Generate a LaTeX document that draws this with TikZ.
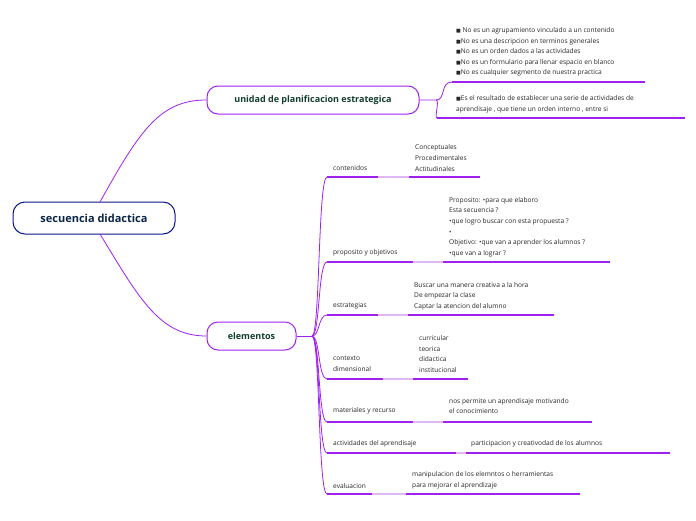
\documentclass[tikz,border=0pt]{standalone}
\usepackage{fontspec}
\setmainfont{Open Sans}
\newfontfamily\djv{DejaVu Sans}
\newcommand{\sqb}{{\djv\fontsize{5}{6}\selectfont■}}
\definecolor{vio}{HTML}{A020F0}
\definecolor{lvio}{HTML}{DDB8F5}
\definecolor{navy}{HTML}{0B2545}
\definecolor{dgreen}{HTML}{123D2E}
\begin{document}
\begin{tikzpicture}[x=1pt,y=-1pt,
  root/.style={draw=navy!60!blue,line width=1pt,rounded corners=12pt,fill=white,minimum width=162pt,minimum height=32pt,font=\fontsize{11}{13}\selectfont\bfseries,text=navy},
  main/.style={draw=vio,line width=1pt,rounded corners=11pt,fill=white,minimum height=28pt,font=\fontsize{9}{11}\selectfont\bfseries,text=dgreen},
  txt/.style={anchor=west,inner sep=0pt,font=\fontsize{6.6}{10.6}\selectfont,align=left,text=black!85},
  ul/.style={draw=vio,line width=1.2pt},
  lul/.style={draw=lvio,line width=1.2pt},
  con/.style={draw=vio,line width=0.8pt}]
\useasboundingbox (0,0) rectangle (696,520);
\node[root] (root) at (94,218) {secuencia didactica};
\node[main,minimum width=212pt] (uni) at (313,100) {unidad de planificacion estrategica};
\node[main,minimum width=89pt] (ele) at (251.5,336) {elementos};
\draw[con] (100,202) .. controls (140,130) and (160,100) .. (uni.west);
\draw[con] (100,234) .. controls (140,300) and (160,336) .. (ele.west);
\coordinate (u1) at (452,82);
\coordinate (u2) at (437,118);
\draw[con] (uni.east) -- (436,100) .. controls (446,100) and (440,82) .. (u1);
\draw[con] (436,100) .. controls (440,100) and (434,118) .. (u2);
\draw[ul] (u1) -- (645,82);
\draw[ul] (u2) -- (685,118);
\node[txt] (t1) at (456,52) { \sqb\ No es un agrupamiento vinculado a un contenido\\\sqb No es una descripcion en terminos generales\\\sqb No es un orden dados a las actividades\\\sqb No es un formulario para llenar espacio en blanco\\\sqb No es cualquier segmento de nuestra practica};
\node[txt] (t2) at (456,104) {\sqb Es el resultado de establecer una serie de actividades de\\aprendisaje , que tiene un orden interno , entre si};
\coordinate (br) at (312,336);
\draw[con] (ele.east) -- (br);
\foreach \y/\a/\b/\c in {177/378/409/480,262/413/443/610,315/378/408/554,379/383/413/468,422/413/443/592,453/456/466/670,494/372/406/580}{
  \draw[con] (br) .. controls (320,336) and (318,\y) .. (327,\y);
  \draw[ul] (327,\y) -- (\a,\y);
  \draw[lul] (\a,\y) -- (\b,\y);
  \draw[ul] (\b,\y) -- (\c,\y);
}
\node[txt] (l1) at (333,168) {contenidos};
\node[txt] (c1) at (415,158) {Conceptuales\\Procedimentales\\Actitudinales};
\node[txt] (l2) at (333,253) {proposito y objetivos};
\node[txt] (c2) at (449,227) {Proposito: •para que elaboro\\Esta secuencia ?\\•que logro buscar con esta propuesta ?\\•\\Objetivo: •que van a aprender los alumnos ?\\•que van a lograr ?};
\node[txt] (l3) at (333,306) {estrategias};
\node[txt] (c3) at (414,296) {Buscar una manera creativa a la hora\\De empezar la clase\\Captar la atencion del alumno};
\node[txt] (l4) at (333,364) {contexto\\dimensional};
\node[txt] (c4) at (419,354) {curricular\\teorica\\didactica\\institucional};
\node[txt] (l5) at (333,411) {materiales y recurso};
\node[txt] (c5) at (449,406) {nos permite un aprendisaje motivando\\el conocimiento};
\node[txt] (l6) at (333,444) {actividades del aprendisaje};
\node[txt] (c6) at (471,444) {participacion y creativodad de los alumnos};
\node[txt] (l7) at (333,486) {evaluacion};
\node[txt] (c7) at (412,480) {manipulacion de los elemntos o herramientas\\para mejorar el aprendizaje};
\end{tikzpicture}
\end{document}
